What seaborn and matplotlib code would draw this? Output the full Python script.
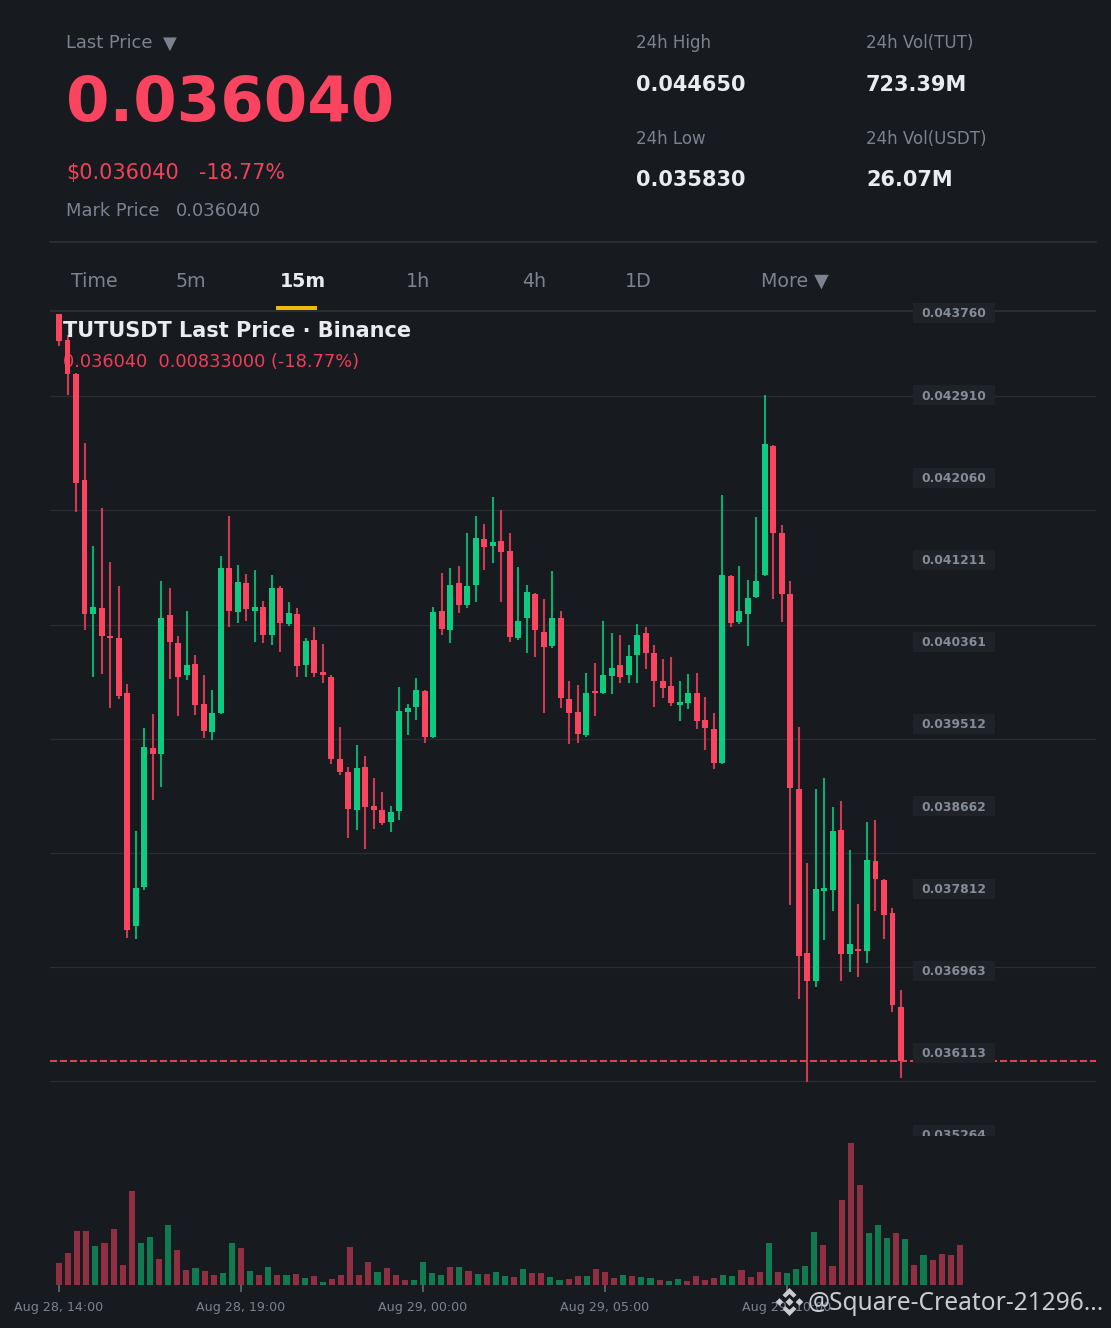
import numpy as np
import pandas as pd
import seaborn as sns
import matplotlib
matplotlib.use("Agg")
import matplotlib.pyplot as plt
from matplotlib.patches import Polygon, Rectangle

# ---------- data (prices in millionths of USDT) ----------
PRICE_UNIT = 1e-6
candle_open = [43749,43481,43129,42034,40649,40711,40422,40401,39833,37425,37828,39265,39203,40639,40350,40019,40133,39719,39430,39626,
               41125,40670,40970,40680,40722,40432,40918,40546,40649,40122,40381,40050,39998,39151,39017,38624,39068,38665,38624,38500,
               38614,39637,39688,39854,39378,40680,40484,40970,40742,40949,41425,41352,41404,41300,40401,40608,40856,40463,40318,40608,
               39771,39637,39399,39854,39833,40009,40122,40019,40226,40453,40246,39957,39905,39709,39730,39833,39554,39461,39110,41042,
               40567,40649,40825,41052,42385,41486,40856,38841,37146,36857,37787,37797,38417,37136,37187,37167,38097,37901,37560,36588]
candle_high = [43749,43532,43140,42416,41352,41745,41187,40939,39926,38407,39471,39616,40990,40918,40422,40680,40226,40019,39864,41249,
               41662,41156,41063,41104,40784,41052,40939,40773,40711,40401,40515,40339,40019,39482,39068,39296,39182,38955,38810,38665,
               39895,39719,39988,39864,40722,41073,41125,41145,41486,41662,41579,41858,41724,41486,41135,40949,40867,40804,41094,40680,
               39957,39916,40040,40143,40577,40453,40432,40329,40546,40515,40329,40184,40205,39957,40029,40040,39792,39626,41879,41052,
               41145,41001,41652,42912,42396,41569,40990,39482,38076,38841,38955,38655,38717,38211,37653,38500,38521,37911,37611,36764]
candle_low = [43419,42912,41703,40484,39998,40029,39678,39771,37301,37291,37797,38727,38862,39978,39595,39967,39606,39368,39347,39616,
              40515,40556,40577,40360,40350,40329,40257,40525,39998,39998,39998,39936,39099,38986,38335,38417,38221,38428,38469,38397,
              38521,39399,39554,39316,39368,40432,40350,40660,40711,40773,41104,41176,40773,40360,40381,40246,40205,39626,40298,39678,
              39306,39316,39378,39595,39823,39823,39936,39936,39936,40081,39688,39781,39699,39544,39668,39461,39244,39048,39099,40515,
              40546,40318,40815,41042,40804,40567,37642,36671,35813,36795,37281,37580,36857,36950,36898,37043,37580,37291,36536,35855]
candle_close = [43470,43129,42003,40649,40722,40422,40401,39802,37384,37818,39275,39203,40608,40360,39998,40122,39709,39440,39626,41125,
                40680,40980,40701,40722,40432,40918,40556,40660,40112,40370,40040,40019,39151,39017,38634,39058,38655,38624,38490,38603,
                39647,39678,39864,39378,40670,40494,40949,40742,40939,41435,41342,41393,41290,40412,40577,40877,40484,40308,40608,39781,
                39626,39409,39833,39833,40019,40091,39998,40215,40432,40246,39957,39885,39730,39740,39833,39544,39471,39110,41052,40556,
                40680,40815,40990,42406,41486,40856,38851,37115,36857,37807,37818,38407,37136,37239,37167,38107,37911,37539,36609,36035]
volume = [22,32,54,54,39,42,56,20,94,42,48,26,60,35,15,17,14,10,12,42,37,14,10,18,10,10,11,7,9,3,6,10,38,10,23,13,17,10,5,5,
          23,12,10,18,18,14,11,11,13,9,8,16,12,12,8,5,6,9,9,16,13,7,10,9,8,7,5,4,6,4,9,5,7,10,9,15,8,13,42,13,
          12,16,19,53,40,19,85,142,100,52,60,47,52,46,20,30,25,31,30,40]
price_labels = ["0.043760","0.042910","0.042060","0.041211","0.040361","0.039512","0.038662","0.037812","0.036963","0.036113","0.035264"]
grid_prices = [42900,41720,40540,39360,38180,37000,35820]
last_price = 36035
time_tick_pos = [0,20,40,60,80]
time_tick_labels = ["Aug 28, 14:00","Aug 28, 19:00","Aug 29, 00:00","Aug 29, 05:00","Aug 29, 10:00"]
tabs = [("Time",71),("5m",176),("15m",280),("1h",406),("4h",522),("1D",625),("More ▼",761)]

# ---------- style ----------
W, H = 1111, 1328
BG = "#171a1f"; GRID = "#2a2d33"; RED = "#fb4460"; GREEN = "#0ecb81"
RED_W = "#cf3a52"; GREEN_W = "#0bad6e"; RED_V = "#8e3042"; GREEN_V = "#117a50"
GRAY = "#7c838e"; WHITE = "#eaecef"
sns.set_theme(style="dark", rc={"figure.facecolor": BG, "axes.facecolor": "none", "savefig.facecolor": BG})
plt.rcParams["font.family"] = ["DejaVu Sans"]

fig = plt.figure(figsize=(W / 100, H / 100), dpi=100)

def px_axes(x0, y0, x1, y1, **kw):
    return fig.add_axes([x0 / W, 1 - y1 / H, (x1 - x0) / W, (y1 - y0) / H], **kw)

# ---------- candles ----------
o, h, l, c = [np.array(a) * PRICE_UNIT for a in (candle_open, candle_high, candle_low, candle_close)]
idx = np.arange(len(o))
up = c > o
ax = px_axes(50, 300, 1096, 1136)
STEP = 842 / 99
ax.set_xlim((50 - 59) / STEP, (1096 - 59) / STEP)
PX = 10.334 * PRICE_UNIT
py = lambda y: (46994.5 - 10.334 * y) * PRICE_UNIT
ax.set_ylim(py(1136), py(300))
ax.set_yticks(np.array(grid_prices) * PRICE_UNIT)
ax.set_yticklabels([])
ax.set_xticks([])
ax.tick_params(length=0)
ax.grid(True, axis="y", color=GRID, lw=0.9, zorder=0)
ax.set_axisbelow(True)
for s in ax.spines.values():
    s.set_visible(False)
ax.axhline(py(311), color=GRID, lw=1.5, zorder=1)
ax.axhline(last_price * PRICE_UNIT, color="#dc3f57", lw=1.5, ls=(0, (3.4, 1.4)), zorder=1)
ax.vlines(idx, l, h, colors=np.where(up, GREEN_W, RED_W), lw=1.5, zorder=3)
ax.bar(idx, np.abs(c - o), bottom=np.minimum(o, c), width=0.7, color=np.where(up, GREEN, RED), zorder=4, linewidth=0)

# price labels
for i, lab in enumerate(price_labels):
    p = float(lab)
    ax.add_patch(Rectangle(((913 - 59) / STEP, p - 10 * PX), 82 / STEP, 20 * PX,
                           facecolor="#1f2328", edgecolor="none", zorder=2))
    ax.text((954 - 59) / STEP, p - 0.8 * PX, lab, ha="center", va="center", color="#858c97", fontsize=8.9,
            fontweight="bold", clip_on=True, zorder=5)

ax.text((63 - 59) / STEP, py(362), "0.036040  0.00833000 (-18.77%)", color="#ec3f58", fontsize=12.8, va="center", zorder=2)

# ---------- volume ----------
vol_df = pd.DataFrame({"i": idx, "vol": volume, "dir": np.where(up, "up", "down")})
ax2 = px_axes(50, 1136, 1096, 1285)
sns.barplot(data=vol_df, x="i", y="vol", hue="dir", palette={"up": GREEN_V, "down": RED_V}, native_scale=True,
            dodge=False, width=0.68, errorbar=None, saturation=1, legend=False, linewidth=0, edgecolor="none", ax=ax2)
ax2.set_xlim((50 - 59) / 9.1, (1096 - 59) / 9.1)
ax2.set_ylim(0, 149)
ax2.set_xlabel(""); ax2.set_ylabel(""); ax2.set_yticks([])
ax2.set_xticks(time_tick_pos)
ax2.set_xticklabels(time_tick_labels, color=GRAY, fontsize=9.05)
ax2.tick_params(axis="x", length=5, width=1.4, color="#5a606a", pad=6.2, bottom=True)
for s in ax2.spines.values():
    s.set_visible(False)

# ---------- overlay: header, tabs, watermark ----------
ov = px_axes(0, 0, W, H, zorder=10)
ov.set_xlim(0, W); ov.set_ylim(H, 0); ov.axis("off")
def T(x, y, s, color=GRAY, size=13, weight="normal", **kw):
    ov.text(x, y + 1.3, s, color=color, fontsize=size, fontweight=weight, va="center", ha="left", **kw)

T(66, 42, "Last Price", size=12.9)
T(163, 42, "▼", size=13)
T(66, 102.5, "0.036040", color=RED, size=45, weight="bold")
T(66, 172, "$0.036040", color="#f0435b", size=15)
T(199, 172, "-18.77%", color="#f0435b", size=14.9)
T(66, 210, "Mark Price", size=12.9)
T(176, 210, "0.036040", size=13)
T(636, 42, "24h High", size=11.95); T(866, 42, "24h Vol(TUT)", size=11.95)
T(636, 138, "24h Low", size=11.95); T(866, 138, "24h Vol(USDT)", size=11.95)
T(636, 84, "0.044650", color=WHITE, size=15, weight="bold")
T(866, 84, "723.39M", color=WHITE, size=15, weight="bold")
T(636, 179, "0.035830", color=WHITE, size=15, weight="bold")
T(866, 179, "26.07M", color=WHITE, size=15, weight="bold")
ov.plot([50, 1096], [242, 242], color=GRID, lw=1.5)
for name, x in tabs:
    if name == "15m":
        T(x, 280, name, color=WHITE, size=13.7, weight="bold")
    else:
        T(x, 280, name, size=13.7)
ov.add_patch(Rectangle((276, 306), 41, 4, facecolor="#f0b90b", edgecolor="none"))
T(63, 330, "TUTUSDT Last Price · Binance", color=WHITE, size=15.03, weight="bold")

# watermark
WM = "#c9ccd1"
cx, cy = 789.5, 1302
chev = np.array([(0,-14),(7,-7),(4,-4.2),(0,-8),(-4,-4.2),(-7,-7)])
for sgn in (1, -1):
    ov.add_patch(Polygon(np.array([cx, cy]) + chev * [1, sgn], facecolor=WM, edgecolor="none"))
for dx, r in ((0, 4), (-10, 3.8), (10, 3.8)):
    ov.add_patch(Polygon([(cx + dx, cy - r), (cx + dx + r, cy), (cx + dx, cy + r), (cx + dx - r, cy)], facecolor=WM, edgecolor="none"))
ov.text(807.5, 1303.5, "@Square-Creator-21296...", color=WM, fontsize=17.65, family="Noto Sans", va="center", ha="left")

fig.savefig("out.png", dpi=100, facecolor=BG)
